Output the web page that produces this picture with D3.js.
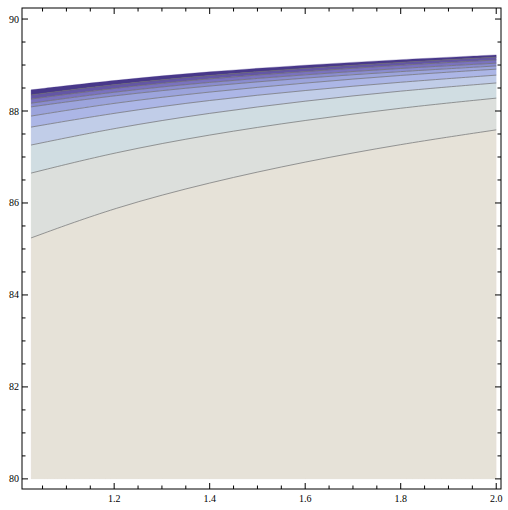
<!DOCTYPE html>
<html><head><meta charset="utf-8">
<script src="https://cdn.jsdelivr.net/npm/d3@7"></script>
<style>body{margin:0;background:#fff}</style>
</head><body><div id="main"></div>
<script>
// contour levels sampled at xs (bottom to top), last row is the region's upper edge
var xs = [1.026, 1.2, 1.4, 1.6, 1.8, 2.0]
var contours = [
  [85.24, 85.90, 86.45, 86.90, 87.28, 87.59],
  [86.65, 87.10, 87.49, 87.80, 88.07, 88.28],
  [87.26, 87.63, 87.96, 88.22, 88.44, 88.61],
  [87.65, 87.96, 88.24, 88.45, 88.63, 88.78],
  [87.89, 88.18, 88.42, 88.61, 88.78, 88.91],
  [88.09, 88.34, 88.55, 88.72, 88.86, 88.98],
  [88.17, 88.42, 88.63, 88.79, 88.93, 89.04],
  [88.26, 88.50, 88.71, 88.86, 89.00, 89.11],
  [88.35, 88.58, 88.78, 88.93, 89.06, 89.17]
]
var topEdge = [88.46, 88.67, 88.86, 89.00, 89.12, 89.22]
var bandColors = ["#e6e2d8","#dcdfdc","#d0dde2","#c1cde8","#acb6e6","#9ca4dc","#8a8ccf","#7a72bf","#6456a6","#48388a"]
var xTicks = [1.2, 1.4, 1.6, 1.8, 2.0]
var yTicks = [80, 82, 84, 86, 88, 90]
var yFloor = 80

var svg = d3.select('#main').append('svg').attr('width', 508).attr('height', 510)
  .attr('font-family', 'Liberation Serif, Times New Roman, serif').attr('font-size', 10)
var x = d3.scaleLinear().domain([1.007, 2.010]).range([22, 501])
var y = d3.scaleLinear().domain([79.78, 90.24]).range([489, 8])

var levels = [xs.map(function(){ return yFloor })].concat(contours).concat([topEdge])
var area = d3.area().x(function(d){ return x(d[0]) }).y0(function(d){ return y(d[1]) })
  .y1(function(d){ return y(d[2]) }).curve(d3.curveBasis)
for (var i = 0; i < levels.length - 1; i++) {
  var pts = xs.map(function(v, k){ return [v, levels[i][k], levels[i+1][k]] })
  svg.append('path').attr('d', area(pts)).attr('fill', bandColors[i]).attr('stroke', bandColors[i]).attr('stroke-width', 0.3)
}
var line = d3.line().x(function(d){ return x(d[0]) }).y(function(d){ return y(d[1]) }).curve(d3.curveBasis)
contours.forEach(function(c){
  svg.append('path').attr('d', line(xs.map(function(v, k){ return [v, c[k]] })))
    .attr('fill', 'none').attr('stroke', '#6e6e6e').attr('stroke-width', 0.7)
})

svg.append('rect').attr('x', 22).attr('y', 8).attr('width', 479).attr('height', 481)
  .attr('fill', 'none').attr('stroke', '#000').attr('stroke-width', 1)

var xMinor = d3.range(1.05, 2.001, 0.05)
var yMinor = d3.range(80, 90.01, 0.5)
xMinor.forEach(function(v){
  var major = xTicks.some(function(t){ return Math.abs(t - v) < 1e-6 })
  var L = major ? 6 : 3.5
  svg.append('line').attr('x1', x(v)).attr('x2', x(v)).attr('y1', 489).attr('y2', 489 - L).attr('stroke', '#000')
  svg.append('line').attr('x1', x(v)).attr('x2', x(v)).attr('y1', 8).attr('y2', 8 + L).attr('stroke', '#000')
})
yMinor.forEach(function(v){
  var major = yTicks.some(function(t){ return Math.abs(t - v) < 1e-6 })
  var L = major ? 6 : 3.5
  svg.append('line').attr('y1', y(v)).attr('y2', y(v)).attr('x1', 22).attr('x2', 22 + L).attr('stroke', '#000')
  svg.append('line').attr('y1', y(v)).attr('y2', y(v)).attr('x1', 501).attr('x2', 501 - L).attr('stroke', '#000')
})
xTicks.forEach(function(t){
  svg.append('text').attr('x', x(t)).attr('y', 502).attr('text-anchor', 'middle').text(d3.format('.1f')(t))
})
yTicks.forEach(function(t){
  svg.append('text').attr('x', 19).attr('y', y(t) + 3.5).attr('text-anchor', 'end').text(t)
})
</script></body></html>
